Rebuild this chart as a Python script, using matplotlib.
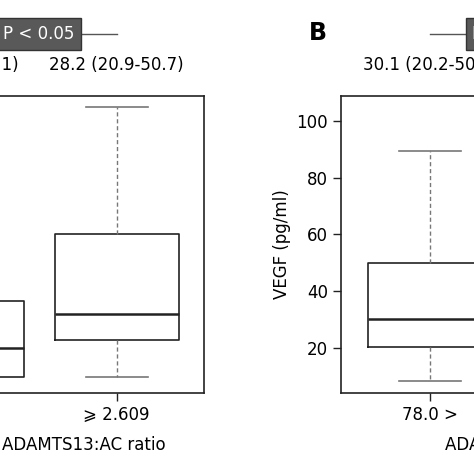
import matplotlib
matplotlib.use("Agg")
import matplotlib.pyplot as plt

# box stats: (whislo, q1, med, q3, whishi)
left_stats = [(6.5, 10.5, 18.7, 31.9, 40.0), (10.5, 20.9, 28.2, 50.7, 86.3)]
left_top = ["9.1 (4.5-14.1)", "28.2 (20.9-50.7)"]
left_ticks = ["< 2.609", "\u2a7e 2.609"]
right_stats = [(8.5, 20.2, 30.1, 50.0, 89.5), (15.0, 40.0, 55.0, 70.0, 100.0)]
right_top = ["30.1 (20.2-50.0)", "55.0 (40.0-70.0)"]
right_ticks = ["78.0 >", "\u2a7e 78.0"]

W = 474
ink = "#222222"
plt.rcParams["font.family"] = "DejaVu Sans"
fig = plt.figure(figsize=(4.74, 4.74), dpi=100)


def panel(left_px, stats, tops, ticks, ylim, xlabel, xlabel_x, yaxis):
    ax = fig.add_axes([left_px / W, 1 - 393 / W, 332 / W, 297 / W])
    bxp = [dict(whislo=s[0], q1=s[1], med=s[2], q3=s[3], whishi=s[4], fliers=[])
           for s in stats]
    ax.bxp(bxp, positions=[1, 2], widths=0.8, showfliers=False,
           boxprops=dict(color=ink, lw=1.2),
           medianprops=dict(color=ink, lw=1.8),
           whiskerprops=dict(color="#777777", lw=1, ls=(0, (3, 2))),
           capprops=dict(color="#777777", lw=1.2), capwidths=0.4)
    ax.set_xlim(1 - 0.577, 2 + 0.564)
    ax.set_ylim(*ylim)
    ax.set_xticks([1, 2], ticks, fontsize=12)
    ax.tick_params(length=6, color=ink, width=1)
    for sp in ax.spines.values():
        sp.set_color(ink)
        sp.set_linewidth(1.2)
    if yaxis:
        ax.set_yticks([20, 40, 60, 80, 100])
        ax.tick_params(axis="y", labelsize=12)
        ax.set_ylabel("VEGF (pg/ml)", fontsize=12)
    else:
        ax.set_yticks([])
    ax.text(xlabel_x, -0.175, xlabel, transform=ax.get_xaxis_transform(),
            ha="center", va="center", fontsize=12)
    for i, t in enumerate(tops):
        ax.annotate(t, xy=(i + 1, 1), xycoords=("data", "axes fraction"),
                    xytext=(0, 22), textcoords="offset points",
                    ha="center", va="center", fontsize=12)
    # P-value bracket
    yb = 1 + 62 / 297
    ax.plot([1, 2], [yb, yb], transform=ax.get_xaxis_transform(),
            color="#555555", lw=1, clip_on=False)
    ax.text(1.5, yb, "P < 0.05", transform=ax.get_xaxis_transform(),
            ha="center", va="center", color="white", fontsize=12,
            bbox=dict(boxstyle="square,pad=0.4", fc="#595959", ec="#333333"))
    return ax


panel(-128, left_stats, left_top, left_ticks, (6.0, 89.4),
      "ADAMTS13:AC ratio", 1.79, False)
panel(341, right_stats, right_top, right_ticks, (4.1, 108.8),
      "ADAMTS13:AC ratio", 1.62, True)
fig.text(318 / W, 1 - 33 / W, "B", fontsize=17, fontweight="bold",
         ha="center", va="center")

fig.savefig("out.png", dpi=100)
